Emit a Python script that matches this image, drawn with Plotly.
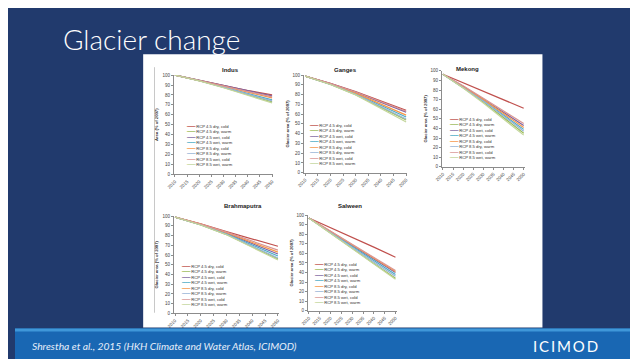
import plotly.graph_objects as go

W, H = 638, 359

# ---------------- data ----------------
years = [2010, 2020, 2030, 2040, 2050]
tick_years = [2010, 2015, 2020, 2025, 2030, 2035, 2040, 2045, 2050]
tick_labels = [str(y) for y in tick_years]
y_ticks = [0, 10, 20, 30, 40, 50, 60, 70, 80, 90, 100]

scenarios = ["RCP 4.5 dry, cold", "RCP 4.5 dry, warm", "RCP 4.5 wet, cold", "RCP 4.5 wet, warm",
             "RCP 8.5 dry, cold", "RCP 8.5 dry, warm", "RCP 8.5 wet, cold", "RCP 8.5 wet, warm"]
colors = ["#C0504D", "#9BBB59", "#8064A2", "#4BACC6",
          "#F79646", "#95B3D7", "#D99694", "#C3D69B"]

indus = [
    [100, 94.8, 89.5, 84.5, 80],
    [100, 94.3, 87.5, 80.0, 73],
    [100, 94.7, 89.2, 84.0, 79],
    [100, 94.4, 88.0, 81.5, 75],
    [100, 94.6, 88.8, 82.8, 77],
    [100, 94.3, 87.8, 80.8, 74],
    [100, 94.7, 89.0, 83.5, 78],
    [100, 94.2, 87.2, 79.5, 72],
]
ganges = [
    [99, 91.5, 83.0, 73.5, 64],
    [99, 90.5, 80.0, 67.0, 54],
    [99, 91.3, 82.3, 72.0, 62],
    [99, 90.8, 80.8, 69.0, 57],
    [99, 91.0, 81.5, 70.5, 59],
    [99, 90.6, 80.3, 68.0, 55],
    [99, 91.4, 82.7, 73.0, 63],
    [99, 90.4, 79.7, 66.0, 52],
]
mekong = [
    [96.5, 87.5, 78.5, 69.5, 61],
    [96.5, 82.5, 67.5, 51.5, 35],
    [96.5, 84.0, 70.5, 57.0, 43],
    [96.5, 83.0, 69.0, 54.0, 39],
    [96.5, 83.5, 70.0, 55.5, 41],
    [96.5, 82.8, 68.5, 53.0, 37],
    [96.5, 84.5, 71.5, 58.5, 45],
    [96.5, 82.0, 66.5, 50.0, 33],
]
brahmaputra = [
    [99, 92.0, 84.0, 76.5, 69],
    [99, 91.0, 81.0, 68.5, 56],
    [99, 91.5, 82.5, 72.0, 61],
    [99, 91.2, 81.8, 70.5, 59],
    [99, 91.7, 83.0, 73.0, 63],
    [99, 91.1, 81.4, 69.5, 57],
    [99, 91.8, 83.5, 74.5, 65],
    [99, 90.9, 80.8, 68.0, 55],
]
salween = [
    [97, 87.0, 76.5, 66.5, 56],
    [97, 81.0, 65.0, 49.5, 34],
    [97, 82.5, 68.5, 54.0, 40],
    [97, 82.0, 67.0, 52.5, 38],
    [97, 83.0, 69.0, 55.0, 41],
    [97, 81.5, 66.0, 51.0, 36],
    [97, 83.2, 69.5, 55.8, 42],
    [97, 80.8, 64.8, 48.8, 33],
]

basins = ["Indus", "Ganges", "Mekong", "Brahmaputra", "Salween"]
basin_data = [indus, ganges, mekong, brahmaputra, salween]
y_titles = ["Area (% of 2007)", "Glacier area (% of 2007)", "Glacier area (% of 2007)",
            "Glacier area (% of 2007)", "Glacier area (% of 2007)"]

# ---------------- layout helpers (pixels -> paper) ----------------
def fx(px):
    return px / W

def fy(py):
    return 1 - py / H

# plot-area boxes in pixels: left, right, top, bottom
boxes = [
    (161, 262, 66, 166.7),
    (293, 398, 66, 165),
    (433, 517, 61.7, 159),
    (161, 268, 209, 307.7),
    (297, 387, 208, 305),
]
title_pos = [(208, 56), (335, 56), (473, 55), (210, 199), (340, 199)]
legend_pos = [(0.10, 0.05), (0.03, 0.05), (0.06, 0.05), (0.05, 0.05), (0.05, 0.04)]

fig = go.Figure()
layout = dict(
    width=W, height=H,
    margin=dict(l=0, r=0, t=0, b=0),
    paper_bgcolor="#213a6d",
    plot_bgcolor="white",
    showlegend=False,
    font=dict(family="Liberation Sans, Arial, sans-serif", color="#333333"),
)

annotations = []
shapes = [
    # white panel holding the charts
    dict(type="rect", xref="paper", yref="paper", x0=fx(130), x1=fx(535), y0=fy(322), y1=fy(45),
         fillcolor="white", line=dict(width=0), layer="below"),
    # thin grey border line at the left of the chart images
    dict(type="line", xref="paper", yref="paper", x0=fx(141.5), x1=fx(141.5), y0=fy(307), y1=fy(58),
         line=dict(color="#c8c8c8", width=1), layer="below"),
    # bottom band
    dict(type="rect", xref="paper", yref="paper", x0=0, x1=1, y0=0, y1=fy(323),
         fillcolor="#1967b3", line=dict(width=0), layer="below"),
    dict(type="rect", xref="paper", yref="paper", x0=0, x1=1, y0=fy(326), y1=fy(323),
         fillcolor="#3f97d9", line=dict(width=0), layer="below"),
]

for i, (name, data, ytitle, box) in enumerate(zip(basins, basin_data, y_titles, boxes)):
    k = i + 1
    xa = "x" if k == 1 else f"x{k}"
    ya = "y" if k == 1 else f"y{k}"
    for s, vals, col in zip(scenarios, data, colors):
        fig.add_trace(go.Scatter(x=years, y=vals, mode="lines", name=s,
                                 line=dict(color=col, width=1.2),
                                 xaxis=xa, yaxis=ya, showlegend=False))
    l, r, t, b = box
    layout["xaxis" if k == 1 else f"xaxis{k}"] = dict(
        domain=[fx(l), fx(r)], anchor=ya, range=[2009.5, 2050.5],
        tickvals=tick_years, ticktext=tick_labels, tickangle=-45,
        tickfont=dict(size=4.5, color="#444"),
        showline=True, linecolor="#8c8c8c", linewidth=0.8,
        ticks="outside", ticklen=2, tickcolor="#8c8c8c", tickwidth=0.6,
        showgrid=False, zeroline=False,
    )
    layout["yaxis" if k == 1 else f"yaxis{k}"] = dict(
        domain=[fy(b), fy(t)], anchor=xa, range=[0, 100],
        tickvals=y_ticks, tickfont=dict(size=4.5, color="#444"),
        showline=True, linecolor="#8c8c8c", linewidth=0.8,
        ticks="outside", ticklen=2, tickcolor="#8c8c8c", tickwidth=0.6,
        showgrid=False, zeroline=False,
        title=dict(text=f"<b>{ytitle}</b>", font=dict(size=4.2, color="#333"), standoff=3),
    )
    tx, ty = title_pos[i]
    annotations.append(dict(text=f"<b>{name}</b>", x=fx(tx), y=fy(ty), xref="paper", yref="paper",
                            showarrow=False, font=dict(size=6, color="#222222")))
    # legend block inside each chart
    rows = []
    for s, col in zip(scenarios, colors):
        rows.append(f"<span style='color:{col}'>━━━━</span> {s}")
    lx, ly = legend_pos[i]
    annotations.append(dict(text="<br>".join(rows), xref=f"{xa} domain", yref=f"{ya} domain",
                            x=lx, y=ly, xanchor="left", yanchor="bottom", align="left",
                            showarrow=False, font=dict(size=4.2, color="#333")))

annotations.append(dict(text="Glacier change", x=fx(47), y=fy(29), xref="paper", yref="paper",
                        xanchor="left", yanchor="middle", showarrow=False,
                        font=dict(family="Lato, sans-serif", size=28, color="white", weight=300)))
annotations.append(dict(text="<i>Shrestha et al., 2015 (HKH Climate and Water Atlas, ICIMOD)</i>",
                        x=fx(15), y=fy(341), xref="paper", yref="paper",
                        xanchor="left", yanchor="middle", showarrow=False,
                        font=dict(family="Lato, sans-serif", size=10.3, color="#e6eefa")))
annotations.append(dict(text="I\u2009C\u2009I\u2009M\u2009O\u2009D",
                        x=fx(558), y=fy(341), xref="paper", yref="paper",
                        xanchor="center", yanchor="middle", showarrow=False,
                        font=dict(family="Lato, sans-serif", size=15, color="white")))

layout["annotations"] = annotations
layout["shapes"] = shapes
fig.update_layout(**layout)
fig.write_html("out.html")
